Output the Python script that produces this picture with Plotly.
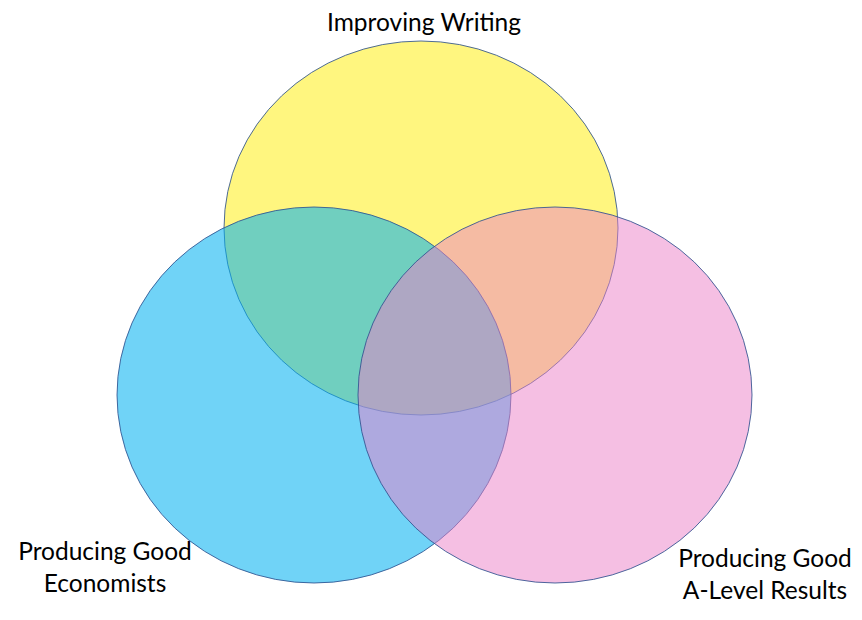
import plotly.graph_objects as go

# set names and label positions (pixel coords, y measured from top)
set_names = ["Improving Writing", "Producing Good<br>Economists", "Producing Good<br>A-Level Results"]
label_x = [424, 105, 765]
label_y = [25, 570, 577]

# ellipses: centre x, centre y, radius x, radius y
ell_cx = [421, 314, 555]
ell_cy = [228, 395, 395]
ell_rx = [197, 197, 197]
ell_ry = [187, 188, 188]
fills = ["rgba(255,237,0,0.5)", "rgba(0,176,240,0.56)", "rgba(236,128,200,0.5)"]
outline = "rgba(47,82,143,0.85)"

# page body has an 8px margin, so offset the axis ranges to keep pixel coords
off = 8

fig = go.Figure()

for cx, cy, rx, ry, fc in zip(ell_cx, ell_cy, ell_rx, ell_ry, fills):
    fig.add_shape(type="circle", xref="x", yref="y",
                  x0=cx - rx, x1=cx + rx, y0=cy - ry, y1=cy + ry,
                  fillcolor=fc, line=dict(color=outline, width=1), layer="above")

fig.add_trace(go.Scatter(x=label_x, y=label_y, mode="text", text=set_names,
                         textfont=dict(family="Lato", size=24.5, color="black"),
                         hoverinfo="skip", cliponaxis=False))

fig.update_xaxes(range=[off, 862 + off], visible=False)
fig.update_yaxes(range=[620 + off, off], visible=False)
fig.update_layout(width=862, height=620, margin=dict(l=0, r=0, t=0, b=0),
                  plot_bgcolor="white", paper_bgcolor="white", showlegend=False)

fig.write_html("out.html")
